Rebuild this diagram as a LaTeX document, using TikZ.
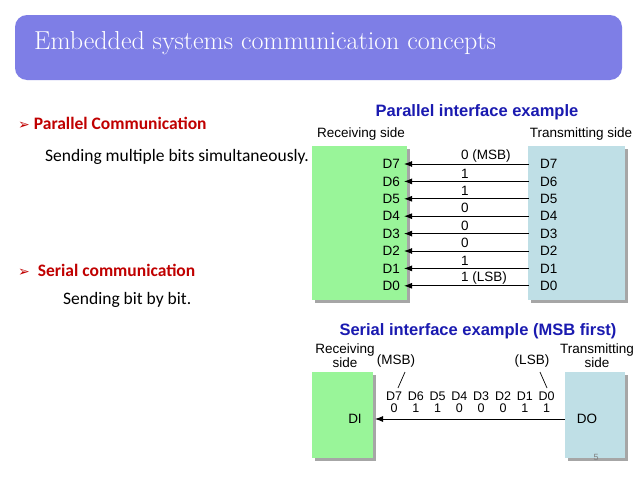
\documentclass[tikz,border=0pt]{standalone}
\usepackage{fontspec}
\setmainfont{Liberation Sans}
\newfontfamily\titlefont{Latin Modern Roman}
\newfontfamily\bodyfont{Carlito}
\newfontfamily\symfont{DejaVu Sans}
\usetikzlibrary{arrows.meta}
\definecolor{titlebg}{HTML}{7E7EE6}
\definecolor{bulletred}{HTML}{C00000}
\definecolor{diablue}{HTML}{1A1AB0}
\definecolor{rxgreen}{HTML}{99F599}
\definecolor{txblue}{HTML}{BFDFE6}
\tikzset{
 lbl/.style={font=\fontsize{13.5}{14}\selectfont,inner sep=0pt},
 slbl/.style={font=\fontsize{12.5}{13}\selectfont,inner sep=0pt},
 wire/.style={-{Latex[length=8pt,width=6pt]},line width=0.9pt},
 dtitle/.style={font=\fontsize{16.5}{17}\selectfont\bfseries,text=diablue,inner sep=0pt},
 body/.style={font=\bodyfont\fontsize{17.5}{18}\selectfont,anchor=west,inner sep=0pt}
}
\begin{document}
\begin{tikzpicture}[x=1pt,y=-1pt]
\useasboundingbox (0,0) rectangle (638,479);
\fill[white] (0,0) rectangle (638,479);
% title
\fill[titlebg,rounded corners=12pt] (15,15) rectangle (622,80);
\node[anchor=west,text=white,font=\titlefont\fontsize{26}{27}\selectfont,inner sep=0pt] (title) at (34,43) {Embedded systems communication concepts};
% left text
\node[body,text=bulletred] (pc) at (18,123) {{\symfont\fontsize{14}{15}\selectfont ➢} \textbf{Parallel Communication}};
\node[body] (pcs) at (45,157) {Sending multiple bits simultaneously.};
\node[body,text=bulletred] (sc) at (18,270) {{\symfont\fontsize{14}{15}\selectfont ➢} \ \textbf{Serial communication}};
\node[body] (scs) at (63,300) {Sending bit by bit.};
% parallel diagram
\node[dtitle] (pt) at (477,112) {Parallel interface example};
\node[lbl] (rs) at (361,134) {Receiving side};
\node[lbl] (ts) at (581,134) {Transmitting side};
\fill[gray!70] (315,149) rectangle (410,303);
\fill[rxgreen] (312,146) rectangle (407,300);
\fill[gray!70] (531,149) rectangle (628,303);
\fill[txblue] (528,146) rectangle (625,300);
\foreach \d/\b [count=\i from 0] in {7/0\;(MSB),6/1,5/1,4/0,3/0,2/0,1/1,0/1\;(LSB)}{
  \pgfmathsetmacro{\yy}{164+17.4*\i}
  \node[lbl,anchor=east] (r\d) at (400,\yy) {D\d};
  \node[lbl,anchor=west] (t\d) at (540,\yy) {D\d};
  \coordinate (s\d) at (529,\yy);
  \coordinate (e\d) at (404,\yy);
  \draw[wire] (s\d) -- (e\d);
  \node[lbl,anchor=west] (b\d) at (461,\yy-8) {\b};
}
% serial diagram
\node[dtitle] (st) at (478,331) {Serial interface example (MSB first)};
\node[lbl,align=center] (rs2) at (345,356) {Receiving\\side};
\node[lbl,align=center] (ts2) at (597,356) {Transmitting\\side};
\fill[gray!70] (315,375) rectangle (376,461);
\fill[rxgreen] (312,372) rectangle (373,458);
\fill[gray!70] (568,375) rectangle (628,461);
\fill[txblue] (565,372) rectangle (625,458);
\node[lbl] (di) at (355,419) {DI};
\node[lbl] (do) at (587,419) {DO};
\coordinate (so) at (565,419);
\coordinate (eo) at (375,419);
\draw[wire] (so) -- (eo);
\foreach \d/\b [count=\i from 0] in {7/0,6/1,5/1,4/0,3/0,2/0,1/1,0/1}{
  \node[slbl] (sd\d) at (394+21.8*\i,396) {D\d};
  \node[slbl] (sb\d) at (394+21.8*\i,408.5) {\b};
}
\node[lbl] (msb) at (396,361) {(MSB)};
\node[lbl] (lsb) at (532,361) {(LSB)};
\draw[line width=0.7pt] (405,372) -- (398,388);
\draw[line width=0.7pt] (540,372) -- (547,388);
\node[lbl,text=gray,font=\fontsize{9}{10}\selectfont] (pn) at (596,457) {5};
\end{tikzpicture}
\end{document}
